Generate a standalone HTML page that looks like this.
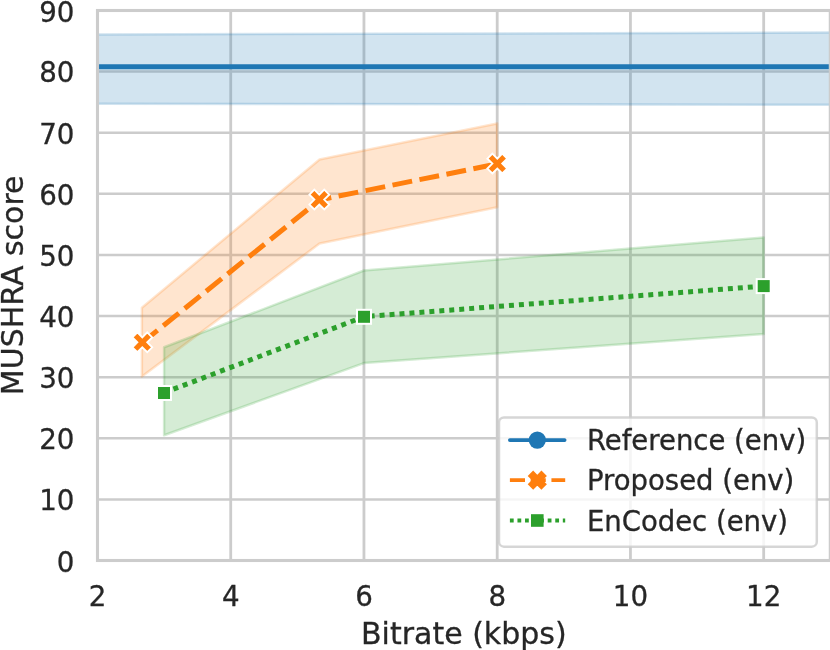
<!DOCTYPE html>
<html lang="en">
<head>
<meta charset="utf-8">
<title>MUSHRA score vs Bitrate</title>
<style>
html,body{margin:0;padding:0;background:#fff;}
body{width:830px;height:650px;overflow:hidden;}
svg{display:block;}
text{font-family:"DejaVu Sans","Liberation Sans",sans-serif;fill:#262626;stroke:#262626;stroke-width:0.3px;}
.t{font-size:27.7px;}
.l{font-size:30.0px;}
.g{font-size:27.5px;}
</style>
</head>
<body>
<svg width="830" height="650" viewBox="0 0 830 650">
<rect x="0" y="0" width="830" height="650" fill="#ffffff"/>

<g stroke="#cccccc" stroke-width="2.8" fill="none">
<line x1="230.72" y1="10.5" x2="230.72" y2="560.5"/>
<line x1="363.96" y1="10.5" x2="363.96" y2="560.5"/>
<line x1="497.2" y1="10.5" x2="497.2" y2="560.5"/>
<line x1="630.44" y1="10.5" x2="630.44" y2="560.5"/>
<line x1="763.68" y1="10.5" x2="763.68" y2="560.5"/>
<line stroke-width="2.5" x1="97.48" y1="499.39" x2="830.3" y2="499.39"/>
<line stroke-width="2.5" x1="97.48" y1="438.28" x2="830.3" y2="438.28"/>
<line stroke-width="2.5" x1="97.48" y1="377.17" x2="830.3" y2="377.17"/>
<line stroke-width="2.5" x1="97.48" y1="316.06" x2="830.3" y2="316.06"/>
<line stroke-width="2.5" x1="97.48" y1="254.94" x2="830.3" y2="254.94"/>
<line stroke-width="2.5" x1="97.48" y1="193.83" x2="830.3" y2="193.83"/>
<line stroke-width="2.5" x1="97.48" y1="132.72" x2="830.3" y2="132.72"/>
<line stroke-width="2.5" x1="97.48" y1="71.61" x2="830.3" y2="71.61"/>
</g>
<defs><clipPath id="ax"><rect x="97.48" y="10.5" width="732.82" height="550"/></clipPath></defs>
<g clip-path="url(#ax)">
<polygon points="94.48,34.5 833.3,32.5 833.3,104.8 94.48,103.65" fill="#1f77b4" fill-opacity="0.2" stroke="#1f77b4" stroke-opacity="0.2" stroke-width="2.5" stroke-linejoin="round"/>
<polygon points="141.89,307.81 319.55,159.49 497.2,123.43 497.2,207.16 319.55,243.52 141.89,376.56" fill="#ff7f0e" fill-opacity="0.2" stroke="#ff7f0e" stroke-opacity="0.2" stroke-width="2.5" stroke-linejoin="round"/>
<polygon points="164.1,347.22 363.96,270.53 763.68,237.47 763.68,333.9 363.96,363.11 164.1,435.22" fill="#2ca02c" fill-opacity="0.2" stroke="#2ca02c" stroke-opacity="0.2" stroke-width="2.5" stroke-linejoin="round"/>
<line x1="97.48" y1="66.72" x2="830.3" y2="66.72" stroke="#1f77b4" stroke-width="5"/>
<polyline points="141.89,342.94 319.55,199.94 497.2,163.89" fill="none" stroke="#ff7f0e" stroke-width="5" stroke-dasharray="20 7.5" stroke-linejoin="round"/>
<polyline points="164.1,392.75 363.96,316.67 763.68,286.11" fill="none" stroke="#2ca02c" stroke-width="5" stroke-dasharray="4.99 4.99" stroke-linejoin="round"/>
</g>
<polygon points="137.35,332.45 142.3,337.4 147.25,332.45 152.2,337.4 147.25,342.35 152.2,347.3 147.25,352.25 142.3,347.3 137.35,352.25 132.4,347.3 137.35,342.35 132.4,337.4" fill="#ff7f0e" stroke="#ffffff" stroke-width="1.9" stroke-linejoin="miter"/>
<polygon points="314.35,189.7 319.3,194.65 324.25,189.7 329.2,194.65 324.25,199.6 329.2,204.55 324.25,209.5 319.3,204.55 314.35,209.5 309.4,204.55 314.35,199.6 309.4,194.65" fill="#ff7f0e" stroke="#ffffff" stroke-width="1.9" stroke-linejoin="miter"/>
<polygon points="492.35,153.7 497.3,158.65 502.25,153.7 507.2,158.65 502.25,163.6 507.2,168.55 502.25,173.5 497.3,168.55 492.35,173.5 487.4,168.55 492.35,163.6 487.4,158.65" fill="#ff7f0e" stroke="#ffffff" stroke-width="1.9" stroke-linejoin="miter"/>
<rect x="158" y="387" width="12" height="12" fill="#2ca02c" stroke="#ffffff" stroke-width="4" paint-order="stroke"/>
<rect x="358" y="310.8" width="12" height="12" fill="#2ca02c" stroke="#ffffff" stroke-width="4" paint-order="stroke"/>
<rect x="757.7" y="280.1" width="12" height="12" fill="#2ca02c" stroke="#ffffff" stroke-width="4" paint-order="stroke"/>
<rect x="97.48" y="10.5" width="732.82" height="550" fill="none" stroke="#cccccc" stroke-width="3.1"/>
<text class="t" x="97.48" y="605.6" text-anchor="middle">2</text>
<text class="t" x="230.72" y="605.6" text-anchor="middle">4</text>
<text class="t" x="363.96" y="605.6" text-anchor="middle">6</text>
<text class="t" x="497.2" y="605.6" text-anchor="middle">8</text>
<text class="t" x="630.44" y="605.6" text-anchor="middle">10</text>
<text class="t" x="763.68" y="605.6" text-anchor="middle">12</text>
<text class="t" x="74.4" y="572" text-anchor="end">0</text>
<text class="t" x="74.4" y="510.49" text-anchor="end">10</text>
<text class="t" x="74.4" y="449.08" text-anchor="end">20</text>
<text class="t" x="74.4" y="387.97" text-anchor="end">30</text>
<text class="t" x="74.4" y="326.86" text-anchor="end">40</text>
<text class="t" x="74.4" y="265.74" text-anchor="end">50</text>
<text class="t" x="74.4" y="204.63" text-anchor="end">60</text>
<text class="t" x="74.4" y="143.52" text-anchor="end">70</text>
<text class="t" x="74.4" y="82.41" text-anchor="end">80</text>
<text class="t" x="74.4" y="21.9" text-anchor="end">90</text>
<text class="l" x="463.85" y="643.7" text-anchor="middle">Bitrate (kbps)</text>
<text class="l" transform="translate(23 285.3) rotate(-90)" text-anchor="middle">MUSHRA score</text>
<rect x="499" y="417.4" width="317.8" height="129.3" rx="5" ry="5" fill="#ffffff" fill-opacity="0.8" stroke="#cccccc" stroke-opacity="0.8" stroke-width="2.5"/>
<line x1="509.9" y1="440.1" x2="564.6" y2="440.1" stroke="#1f77b4" stroke-width="3.8" stroke-linecap="round"/>
<circle cx="537.3" cy="440.1" r="8.6" fill="#1f77b4"/>
<line x1="509.9" y1="480.2" x2="565.2" y2="480.2" stroke="#ff7f0e" stroke-width="3.8" stroke-dasharray="15.1 5.67"/>
<polygon points="533.17,471.95 537.3,476.07 541.42,471.95 545.55,476.07 541.42,480.2 545.55,484.32 541.42,488.45 537.3,484.32 533.17,488.45 529.05,484.32 533.17,480.2 529.05,476.07" fill="#ff7f0e" stroke="#ff7f0e" stroke-width="1.9" stroke-linejoin="miter"/>
<line x1="509.9" y1="520.5" x2="565.2" y2="520.5" stroke="#2ca02c" stroke-width="3.8" stroke-dasharray="3.78 3.78"/>
<rect x="531" y="514.2" width="12.6" height="12.6" fill="#2ca02c"/>
<text class="g" x="586.9" y="450.1">Reference (env)</text>
<text class="g" x="586.9" y="490.2">Proposed (env)</text>
<text class="g" x="586.9" y="530.5">EnCodec (env)</text>
</svg>
</body>
</html>
